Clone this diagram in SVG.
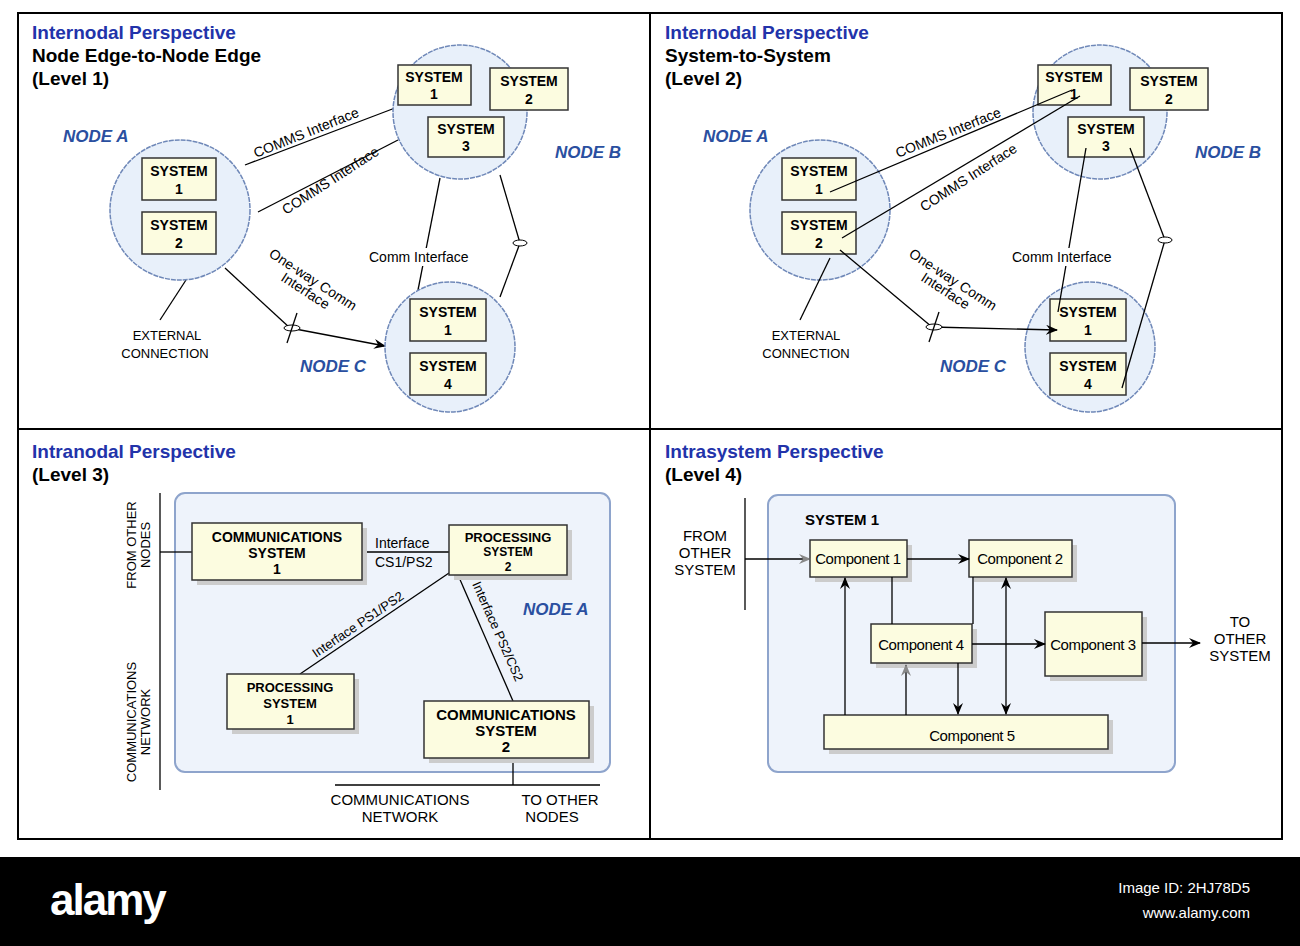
<svg xmlns="http://www.w3.org/2000/svg" width="1300" height="946" viewBox="0 0 1300 946">
<style>
text{font-family:"Liberation Sans",Arial,sans-serif;fill:#000}
.t1{font-size:19px;font-weight:bold;fill:#2233aa}
.t2{font-size:19px;font-weight:bold}
.nd{font-size:17px;font-weight:bold;font-style:italic;fill:#2a4fa0}
.sb{font-size:14px;font-weight:bold;text-anchor:middle}
.lb{font-size:14px}
.sm{font-size:13px}
.node{fill:#e8f0fa;stroke:#6f88b8;stroke-width:1.5;stroke-dasharray:5 1}
.box{fill:#fcfce0;stroke:#333;stroke-width:1.5}
.shd{fill:#ccc}
.ln{stroke:#000;stroke-width:1.3;fill:none}
.cn{font-size:15px;text-anchor:middle}
.cp{font-size:15px;text-anchor:middle;letter-spacing:-0.4px}
</style>
<defs>
<marker id="ar" markerWidth="12" markerHeight="10" refX="11" refY="5" orient="auto" markerUnits="userSpaceOnUse"><path d="M0,0 L12,5 L0,10 L4,5 Z" fill="#000"/></marker>
<marker id="ars" markerWidth="12" markerHeight="10" refX="1" refY="5" orient="auto" markerUnits="userSpaceOnUse"><path d="M12,0 L0,5 L12,10 L8,5 Z" fill="#000"/></marker>
<marker id="arg" markerWidth="12" markerHeight="10" refX="11" refY="5" orient="auto" markerUnits="userSpaceOnUse"><path d="M0,0 L12,5 L0,10 L4,5 Z" fill="#888"/></marker>
</defs>
<rect width="1300" height="946" fill="#fff"/>
<rect x="18" y="13" width="1264" height="826" fill="none" stroke="#000" stroke-width="2"/>
<line x1="650" y1="13" x2="650" y2="839" stroke="#000" stroke-width="2"/>
<line x1="18" y1="429" x2="1282" y2="429" stroke="#000" stroke-width="2"/>

<!-- Panel 1 -->
<g id="p1-titles">
<text class="t1" x="32" y="39">Internodal Perspective</text>
<text class="t2" x="32" y="62">Node Edge-to-Node Edge</text>
<text class="t2" x="32" y="85">(Level 1)</text>
</g>
<g id="p1-connectors">
<line class="ln" x1="245" y1="165" x2="395" y2="108"/>
<line class="ln" x1="258" y1="212" x2="398" y2="140"/>
<line class="ln" x1="440" y1="178" x2="418" y2="290"/>
<line class="ln" x1="500" y1="175" x2="520" y2="243"/>
<line class="ln" x1="520" y1="243" x2="500" y2="297"/>
<ellipse cx="520" cy="243" rx="7" ry="3" fill="#fff" stroke="#000"/>
<line class="ln" x1="225" y1="268" x2="290" y2="328"/>
<line class="ln" x1="290" y1="328" x2="385" y2="346" marker-end="url(#ar)"/>
<ellipse cx="292" cy="328" rx="8" ry="3" fill="#fff" stroke="#000"/>
<line class="ln" x1="297" y1="313" x2="287" y2="343"/>
<line class="ln" x1="186" y1="280" x2="160" y2="320"/>
<text class="lb" transform="translate(256,158) rotate(-22)">COMMS Interface</text>
<text class="lb" transform="translate(286,215) rotate(-33)">COMMS Interface</text>
<rect x="366" y="248" width="128" height="18" fill="#fff"/>
<text class="lb" x="369" y="262">Comm  Interface</text>
<text class="lb" transform="translate(268,256) rotate(33)">One-way Comm</text>
<text class="lb" transform="translate(280,280) rotate(33)">Interface</text>
<text class="sm" x="167" y="340" text-anchor="middle">EXTERNAL</text>
<text class="sm" x="165" y="358" text-anchor="middle">CONNECTION</text>
</g>
<g id="p1-nodeA"><circle class="node" cx="180" cy="210" r="70"/>
<rect class="box" x="142" y="158" width="74" height="42"/><text class="sb" x="179" y="176">SYSTEM</text><text class="sb" x="179" y="194">1</text>
<rect class="box" x="142" y="212" width="74" height="42"/><text class="sb" x="179" y="230">SYSTEM</text><text class="sb" x="179" y="248">2</text>
<text class="nd" x="63" y="142">NODE A</text></g>
<g id="p1-nodeB"><circle class="node" cx="460" cy="112" r="67"/>
<rect class="box" x="398" y="65" width="73" height="40"/><text class="sb" x="434" y="82">SYSTEM</text><text class="sb" x="434" y="99">1</text>
<rect class="box" x="490" y="68" width="78" height="42"/><text class="sb" x="529" y="86">SYSTEM</text><text class="sb" x="529" y="104">2</text>
<rect class="box" x="428" y="117" width="76" height="40"/><text class="sb" x="466" y="134">SYSTEM</text><text class="sb" x="466" y="151">3</text>
<text class="nd" x="555" y="158">NODE B</text></g>
<g id="p1-nodeC"><circle class="node" cx="450" cy="347" r="65"/>
<rect class="box" x="410" y="299" width="76" height="42"/><text class="sb" x="448" y="317">SYSTEM</text><text class="sb" x="448" y="335">1</text>
<rect class="box" x="410" y="353" width="76" height="42"/><text class="sb" x="448" y="371">SYSTEM</text><text class="sb" x="448" y="389">4</text>
<text class="nd" x="300" y="372">NODE C</text></g>

<!-- Panel 2 -->
<g id="p2-titles">
<text class="t1" x="665" y="39">Internodal Perspective</text>
<text class="t2" x="665" y="62">System-to-System</text>
<text class="t2" x="665" y="85">(Level 2)</text>
</g>
<g id="p2-nodeA"><circle class="node" cx="820" cy="210" r="70"/>
<rect class="box" x="782" y="158" width="74" height="42"/><text class="sb" x="819" y="176">SYSTEM</text><text class="sb" x="819" y="194">1</text>
<rect class="box" x="782" y="212" width="74" height="42"/><text class="sb" x="819" y="230">SYSTEM</text><text class="sb" x="819" y="248">2</text>
<text class="nd" x="703" y="142">NODE A</text></g>
<g id="p2-nodeB"><circle class="node" cx="1100" cy="112" r="67"/>
<rect class="box" x="1038" y="65" width="73" height="40"/><text class="sb" x="1074" y="82">SYSTEM</text><text class="sb" x="1074" y="99">1</text>
<rect class="box" x="1130" y="68" width="78" height="42"/><text class="sb" x="1169" y="86">SYSTEM</text><text class="sb" x="1169" y="104">2</text>
<rect class="box" x="1068" y="117" width="76" height="40"/><text class="sb" x="1106" y="134">SYSTEM</text><text class="sb" x="1106" y="151">3</text>
<text class="nd" x="1195" y="158">NODE B</text></g>
<g id="p2-nodeC"><circle class="node" cx="1090" cy="347" r="65"/>
<rect class="box" x="1050" y="299" width="76" height="42"/><text class="sb" x="1088" y="317">SYSTEM</text><text class="sb" x="1088" y="335">1</text>
<rect class="box" x="1050" y="353" width="76" height="42"/><text class="sb" x="1088" y="371">SYSTEM</text><text class="sb" x="1088" y="389">4</text>
<text class="nd" x="940" y="372">NODE C</text></g>
<g id="p2-connectors">
<line class="ln" x1="830" y1="192" x2="1072" y2="90"/>
<line class="ln" x1="842" y1="238" x2="1080" y2="96"/>
<line class="ln" x1="1086" y1="148" x2="1058" y2="312"/>
<line class="ln" x1="1130" y1="148" x2="1165" y2="240"/>
<line class="ln" x1="1165" y1="240" x2="1122" y2="388"/>
<ellipse cx="1165" cy="240" rx="7" ry="3" fill="#fff" stroke="#000"/>
<line class="ln" x1="840" y1="250" x2="932" y2="327"/>
<line class="ln" x1="932" y1="327" x2="1057" y2="330" marker-end="url(#ar)"/>
<ellipse cx="934" cy="327" rx="8" ry="3" fill="#fff" stroke="#000"/>
<line class="ln" x1="939" y1="312" x2="929" y2="342"/>
<line class="ln" x1="830" y1="258" x2="800" y2="320"/>
<text class="lb" transform="translate(898,158) rotate(-22)">COMMS Interface</text>
<text class="lb" transform="translate(924,212) rotate(-33)">COMMS Interface</text>
<rect x="1009" y="248" width="128" height="18" fill="#fff"/>
<text class="lb" x="1012" y="262">Comm  Interface</text>
<text class="lb" transform="translate(908,256) rotate(33)">One-way Comm</text>
<text class="lb" transform="translate(920,280) rotate(33)">Interface</text>
<text class="sm" x="806" y="340" text-anchor="middle">EXTERNAL</text>
<text class="sm" x="806" y="358" text-anchor="middle">CONNECTION</text>
</g>

<!-- Panel 3 -->
<g id="p3-titles">
<text class="t1" x="32" y="458">Intranodal Perspective</text>
<text class="t2" x="32" y="481">(Level 3)</text>
</g>
<rect x="175" y="493" width="435" height="279" rx="10" fill="#eef3fb" stroke="#8ea4cc" stroke-width="2"/>
<text class="nd" x="523" y="615">NODE A</text>
<g id="p3-connectors">
<line class="ln" x1="160" y1="493" x2="160" y2="790"/>
<line class="ln" x1="160" y1="552" x2="192" y2="552"/>
<line class="ln" x1="362" y1="552" x2="449" y2="552"/>
<line class="ln" x1="449" y1="573" x2="300" y2="674"/>
<line class="ln" x1="458" y1="575" x2="513" y2="701"/>
<line class="ln" x1="513" y1="758" x2="513" y2="785"/>
<line class="ln" x1="335" y1="785" x2="600" y2="785"/>
<text class="lb" x="375" y="548">Interface</text>
<text class="lb" x="375" y="567">CS1/PS2</text>
<text class="sm" transform="translate(316,658) rotate(-34)">Interface PS1/PS2</text>
<text class="sm" transform="translate(472,584) rotate(66)">Interface PS2/CS2</text>
<text class="cn" x="400" y="805">COMMUNICATIONS</text>
<text class="cn" x="400" y="822">NETWORK</text>
<text class="cn" x="560" y="805">TO OTHER</text>
<text class="cn" x="552" y="822">NODES</text>
<text class="sm" text-anchor="middle" transform="translate(136,545) rotate(-90)">FROM OTHER</text>
<text class="sm" text-anchor="middle" transform="translate(150,545) rotate(-90)">NODES</text>
<text class="sm" text-anchor="middle" transform="translate(136,722) rotate(-90)">COMMUNICATIONS</text>
<text class="sm" text-anchor="middle" transform="translate(150,722) rotate(-90)">NETWORK</text>
</g>
<g id="p3-cs1"><rect class="shd" x="197" y="528" width="170" height="57"/><rect class="box" x="192" y="523" width="170" height="57"/>
<text class="sb" x="277" y="542">COMMUNICATIONS</text><text class="sb" x="277" y="558">SYSTEM</text><text class="sb" x="277" y="574">1</text></g>
<g id="p3-ps2"><rect class="shd" x="454" y="530" width="118" height="50"/><rect class="box" x="449" y="525" width="118" height="50"/>
<text class="sb" x="508" y="542" style="font-size:13px">PROCESSING</text><text class="sb" x="508" y="556" style="font-size:12px">SYSTEM</text><text class="sb" x="508" y="571" style="font-size:12px">2</text></g>
<g id="p3-ps1"><rect class="shd" x="232" y="679" width="127" height="55"/><rect class="box" x="227" y="674" width="127" height="55"/>
<text class="sb" x="290" y="692" style="font-size:13px">PROCESSING</text><text class="sb" x="290" y="708" style="font-size:13px">SYSTEM</text><text class="sb" x="290" y="724" style="font-size:13px">1</text></g>
<g id="p3-cs2"><rect class="shd" x="429" y="706" width="165" height="57"/><rect class="box" x="424" y="701" width="165" height="57"/>
<text class="sb" x="506" y="720" style="font-size:15px">COMMUNICATIONS</text><text class="sb" x="506" y="736" style="font-size:15px">SYSTEM</text><text class="sb" x="506" y="752" style="font-size:15px">2</text></g>

<!-- Panel 4 -->
<g id="p4-titles">
<text class="t1" x="665" y="458">Intrasystem Perspective</text>
<text class="t2" x="665" y="481">(Level 4)</text>
</g>
<rect x="768" y="495" width="407" height="277" rx="10" fill="#eef3fb" stroke="#8ea4cc" stroke-width="2"/>
<text class="sb" x="842" y="525" style="font-size:15px">SYSTEM 1</text>
<g id="p4-c1"><rect class="shd" x="815" y="545" width="97" height="37"/><rect class="box" x="810" y="540" width="97" height="37"/><text class="cp" x="858" y="564">Component 1</text></g>
<g id="p4-c2"><rect class="shd" x="974" y="545" width="103" height="37"/><rect class="box" x="969" y="540" width="103" height="37"/><text class="cp" x="1020" y="564">Component 2</text></g>
<g id="p4-c4"><rect class="shd" x="876" y="629" width="101" height="39"/><rect class="box" x="871" y="624" width="101" height="39"/><text class="cp" x="921" y="650">Component 4</text></g>
<g id="p4-c3"><rect class="shd" x="1050" y="617" width="97" height="64"/><rect class="box" x="1045" y="612" width="97" height="64"/><text class="cp" x="1093" y="650">Component 3</text></g>
<g id="p4-c5"><rect class="shd" x="829" y="720" width="284" height="34"/><rect class="box" x="824" y="715" width="284" height="34"/><text class="cp" x="972" y="741">Component 5</text></g>
<g id="p4-connectors">
<line class="ln" x1="745" y1="498" x2="745" y2="610"/>
<line class="ln" x1="745" y1="559" x2="810" y2="559" marker-end="url(#arg)"/>
<line class="ln" x1="907" y1="559" x2="969" y2="559" marker-end="url(#ar)"/>
<line class="ln" x1="972" y1="644" x2="1045" y2="644" marker-end="url(#ar)"/>
<line class="ln" x1="1142" y1="643" x2="1200" y2="643" marker-end="url(#ar)"/>
<line class="ln" x1="892" y1="577" x2="892" y2="624"/>
<line class="ln" x1="973" y1="577" x2="973" y2="624"/>
<line class="ln" x1="845" y1="715" x2="845" y2="578" marker-end="url(#ar)"/>
<line class="ln" x1="906" y1="715" x2="906" y2="665" stroke="#666" marker-end="url(#arg)"/>
<line class="ln" x1="958" y1="663" x2="958" y2="714" marker-end="url(#ar)"/>
<line class="ln" x1="1006" y1="578" x2="1006" y2="714" marker-start="url(#ars)" marker-end="url(#ar)"/>
<text class="cn" x="705" y="541">FROM</text>
<text class="cn" x="705" y="558">OTHER</text>
<text class="cn" x="705" y="575">SYSTEM</text>
<text class="cn" x="1240" y="627">TO</text>
<text class="cn" x="1240" y="644">OTHER</text>
<text class="cn" x="1240" y="661">SYSTEM</text>
</g>

<!-- watermark bar -->
<rect x="0" y="857" width="1300" height="89" fill="#000"/>
<text x="50" y="915" style="font-size:44px;font-weight:bold;fill:#fff;letter-spacing:-2px">alamy</text>
<text x="1250" y="893" text-anchor="end" style="font-size:15px;fill:#fff">Image ID: 2HJ78D5</text>
<text x="1250" y="918" text-anchor="end" style="font-size:15px;fill:#fff">www.alamy.com</text>
</svg>
